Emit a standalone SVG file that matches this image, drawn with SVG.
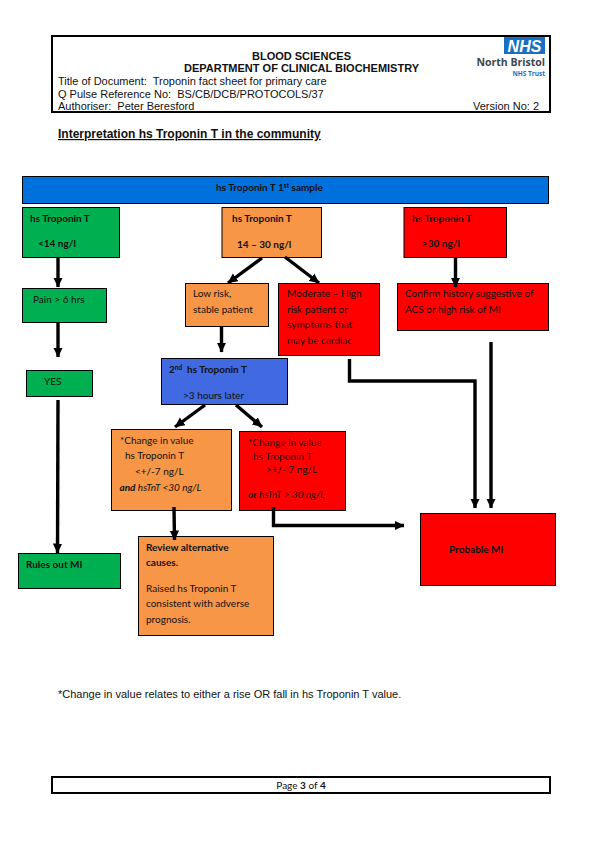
<svg xmlns="http://www.w3.org/2000/svg" width="595" height="842" viewBox="0 0 595 842">
<style>
.a{font-family:"Liberation Sans",Arial,sans-serif;font-size:11px;fill:#111;white-space:pre}
.ab{font-weight:700}
.h{font-size:12px}
.c{font-family:Lato,"Open Sans",sans-serif;font-size:10px;fill:#111;white-space:pre}
.b{font-weight:700}
.i{font-style:italic}
.g rect{stroke:#000;stroke-width:1}
.grn{fill:#00b050}.org{fill:#f79646}.red{fill:#ff0000}
.conn{fill:none;stroke:#000;stroke-width:3.4}
.frame{fill:#fff;stroke:#000;stroke-width:2}
</style>
<defs>
<marker id="ah" markerUnits="userSpaceOnUse" markerWidth="11" markerHeight="10" refX="9.5" refY="5" orient="auto">
<path d="M0,0.3 L10,5 L0,9.700 z" fill="#000"/>
</marker>
</defs>
<rect width="595" height="842" fill="#fff"/>
<g id="header">
<rect class="frame" x="52" y="36" width="498" height="76"/>
<text class="a ab" x="301.5" y="60" text-anchor="middle">BLOOD SCIENCES</text>
<text class="a ab" x="301.5" y="72" text-anchor="middle">DEPARTMENT OF CLINICAL BIOCHEMISTRY</text>
<text class="a" x="58" y="85">Title of Document:  Troponin fact sheet for primary care</text>
<text class="a" x="58" y="98">Q Pulse Reference No:  BS/CB/DCB/PROTOCOLS/37</text>
<text class="a" x="58" y="110">Authoriser:  Peter Beresford</text>
<text class="a" x="473" y="110">Version No: 2</text>
<rect x="504" y="37" width="41" height="17" fill="#1b6fc2"/>
<text x="524.5" y="52" text-anchor="middle" font-family="Liberation Sans,sans-serif" font-size="16" font-weight="700" font-style="italic" fill="#fff">NHS</text>
<text x="545" y="66" text-anchor="end" font-family="Open Sans,sans-serif" font-size="10.500" font-weight="700" fill="#3c4650">North Bristol</text>
<text x="545" y="76" text-anchor="end" font-family="Open Sans,sans-serif" font-size="6.500" font-weight="700" fill="#1b6fc2">NHS Trust</text>
</g>
<text id="heading" class="a ab h" x="58" y="138" text-decoration="underline">Interpretation hs Troponin T in the community</text>
<g id="first-sample" class="g"><rect x="22.5" y="176.5" width="526" height="27" fill="#0070dd"/>
<text class="c b" x="216" y="191">hs Troponin T 1<tspan font-size="6.5" dy="-3">st</tspan><tspan dy="3"> sample</tspan></text></g>
<g id="t-low" class="g"><rect class="grn" x="22.5" y="207.5" width="97" height="50"/>
<text class="c b" x="30" y="222">hs Troponin T</text><text class="c b" x="38" y="247">&lt;14 ng/l</text></g>
<g id="t-mid" class="g"><rect class="org" x="222" y="207.5" width="99.500" height="50"/>
<text class="c b" x="232" y="222">hs Troponin T</text><text class="c b" x="237" y="248">14 – 30 ng/l</text></g>
<g id="t-high" class="g"><rect class="red" x="404" y="207.5" width="102.500" height="50"/>
<text class="c b" x="412" y="222">hs Troponin T</text><text class="c b" x="422" y="247">&gt;30 ng/l</text></g>
<g id="pain" class="g"><rect class="grn" x="22.5" y="288.5" width="84" height="34"/>
<text class="c" x="33" y="303">Pain &gt; 6 hrs</text></g>
<g id="low-risk" class="g"><rect class="org" x="185.500" y="283.500" width="83" height="43"/>
<text class="c" x="193" y="297">Low risk,</text><text class="c" x="193" y="313">stable patient</text></g>
<g id="moderate" class="g"><rect class="red" x="278.500" y="283.500" width="101" height="72"/>
<text class="c" x="287" y="297">Moderate – High</text><text class="c" x="287" y="313">risk patient or</text><text class="c" x="287" y="328">symptoms that</text><text class="c" x="287" y="344">may be cardiac</text></g>
<g id="confirm" class="g"><rect class="red" x="397.500" y="283.500" width="151" height="47"/>
<text class="c" x="405" y="297">Confirm history suggestive of</text><text class="c" x="405" y="313">ACS or high risk of MI</text></g>
<g id="yes" class="g"><rect class="grn" x="26.500" y="370.500" width="66" height="26"/>
<text class="c" x="44" y="385">YES</text></g>
<g id="second" class="g"><rect x="161.500" y="358.500" width="126" height="46" fill="#4169e1"/>
<text class="c b" x="169" y="373">2<tspan font-size="6.500" dy="-3">nd</tspan><tspan dy="3">  hs Troponin T</tspan></text><text class="c" x="183" y="399">&gt;3 hours later</text></g>
<g id="change-low" class="g"><rect class="org" x="111.500" y="429.500" width="120" height="81"/>
<text class="c" x="120" y="444">*Change in value</text><text class="c" x="125" y="459">hs Troponin T</text><text class="c" x="135" y="475">&lt;+/-7 ng/L</text><text class="c i" x="119.500" y="491"><tspan class="b">and</tspan> hsTnT &lt;30 ng/L</text></g>
<g id="change-high" class="g"><rect class="red" x="239.500" y="431.500" width="106" height="79"/>
<text class="c" x="248" y="446">*Change in value</text><text class="c" x="253" y="460">hs Troponin T</text><text class="c" x="266" y="473">&gt;+/- 7 ng/L</text><text class="c i" x="248" y="498"><tspan class="b">or</tspan> hsTnT &gt; 30 ng/L</text></g>
<g id="review" class="g"><rect class="org" x="138.500" y="536.500" width="135" height="99"/>
<text class="c b" x="146" y="551">Review alternative</text><text class="c b" x="146" y="566">causes.</text><text class="c" x="146" y="592">Raised hs Troponin T</text><text class="c" x="146" y="607">consistent with adverse</text><text class="c" x="146" y="623">prognosis.</text></g>
<g id="rules-out" class="g"><rect class="grn" x="18.500" y="553.500" width="102" height="35"/>
<text class="c b" x="26" y="568">Rules out MI</text></g>
<g id="probable" class="g"><rect class="red" x="420.500" y="513.500" width="135" height="72"/>
<text class="c b" x="449" y="553">Probable MI</text></g>
<g id="connectors">
<path class="conn" marker-end="url(#ah)" d="M58,257 V287"/>
<path class="conn" marker-end="url(#ah)" d="M58,323 V357"/>
<path class="conn" marker-end="url(#ah)" d="M58,400 L57.500,553"/>
<path class="conn" marker-end="url(#ah)" d="M262,258 L228,283"/>
<path class="conn" marker-end="url(#ah)" d="M285,257 L319,283"/>
<path class="conn" marker-end="url(#ah)" d="M455.500,258 V287"/>
<path class="conn" marker-end="url(#ah)" d="M221.500,327 V352"/>
<path class="conn" marker-end="url(#ah)" d="M349.500,359 V381 H475 V508"/>
<path class="conn" marker-end="url(#ah)" d="M491,342 V508"/>
<path class="conn" marker-end="url(#ah)" d="M205,405 L175,427"/>
<path class="conn" marker-end="url(#ah)" d="M236,405 L262,427"/>
<path class="conn" marker-end="url(#ah)" d="M174,507 L174.500,540"/>
<path class="conn" marker-end="url(#ah)" d="M273.500,507 V525.500 H404"/>
</g>
<text id="footnote" class="a" x="58" y="698">*Change in value relates to either a rise OR fall in hs Troponin T value.</text>
<g id="footer">
<rect class="frame" x="52" y="777" width="498" height="16"/>
<text class="c" x="301" y="789" text-anchor="middle">Page <tspan class="b">3</tspan> of <tspan class="b">4</tspan></text>
</g>
</svg>
